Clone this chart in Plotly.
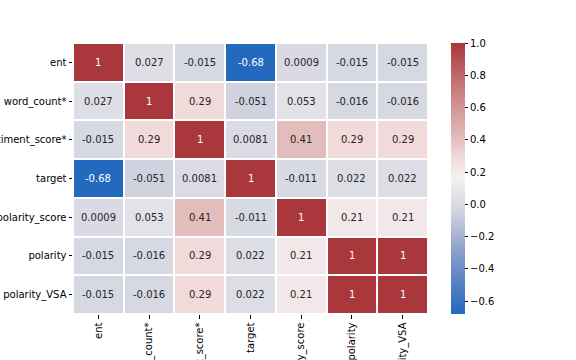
import plotly.graph_objects as go

labels = ["ent", "word_count*", "sentiment_score*", "target",
          "polarity_score", "polarity", "polarity_VSA"]

corr = [
    [1, 0.027, -0.015, -0.68, 0.0009, -0.015, -0.015],
    [0.027, 1, 0.29, -0.051, 0.053, -0.016, -0.016],
    [-0.015, 0.29, 1, 0.0081, 0.41, 0.29, 0.29],
    [-0.68, -0.051, 0.0081, 1, -0.011, 0.022, 0.022],
    [0.0009, 0.053, 0.41, -0.011, 1, 0.21, 0.21],
    [-0.015, -0.016, 0.29, 0.022, 0.21, 1, 1],
    [-0.015, -0.016, 0.29, 0.022, 0.21, 1, 1],
]

cbar_ticks = [1.0, 0.8, 0.6, 0.4, 0.2, 0.0, -0.2, -0.4, -0.6]

vlag = [
    [0.0, "#2369bd"],
    [0.125, "#5b82c3"],
    [0.25, "#93a5cc"],
    [0.375, "#d0d3df"],
    [0.5, "#f5f1f2"],
    [0.58, "#f0d9d9"],
    [0.65, "#e3bcbc"],
    [0.75, "#d39a9b"],
    [0.875, "#c06a6c"],
    [1.0, "#a9373b"],
]

zmin, zmax = -0.68, 1.0

fig = go.Figure(go.Heatmap(
    z=corr, x=labels, y=labels,
    colorscale=vlag, zmin=zmin, zmax=zmax,
    xgap=2, ygap=2,
    colorbar=dict(
        x=1.0647, xanchor="left", xref="paper",
        y=0.5, yanchor="middle",
        thickness=14, thicknessmode="pixels",
        len=271, lenmode="pixels",
        xpad=0, ypad=0,
        outlinewidth=0,
        ticks="outside", ticklen=3.5, tickwidth=0.8, tickcolor="#000",
        tickvals=cbar_ticks,
        ticktext=[("%.1f" % v).replace("-", "\u2212") for v in cbar_ticks],
        tickfont=dict(family="DejaVu Sans", size=10, color="#000"),
    ),
    hoverinfo="skip",
))

annotations = []
for i, row in enumerate(corr):
    for j, v in enumerate(row):
        dark_cell = v > 0.8 or v < -0.5
        annotations.append(dict(
            x=labels[j], y=labels[i], text=format(v, ".2g"),
            showarrow=False,
            font=dict(family="DejaVu Sans", size=10,
                      color="#ffffff" if dark_cell else "#262626"),
        ))

axis_common = dict(
    showgrid=False, zeroline=False, showline=False,
    ticks="outside", ticklen=3.5, tickwidth=0.8, tickcolor="#000",
    tickfont=dict(family="DejaVu Sans", size=10, color="#000"),
    automargin=False,
)

fig.update_layout(
    width=576, height=360,
    margin=dict(l=72.5, r=148, t=43, b=46, pad=0),
    paper_bgcolor="white", plot_bgcolor="white",
    font=dict(family="DejaVu Sans", size=10, color="#000"),
    annotations=annotations,
    xaxis=dict(axis_common, tickangle=-90),
    yaxis=dict(axis_common, autorange="reversed"),
)

fig.write_html(
    "out.html",
    config={"displayModeBar": False},
    post_script="document.body.style.margin='0';document.body.style.overflow='hidden';",
)
